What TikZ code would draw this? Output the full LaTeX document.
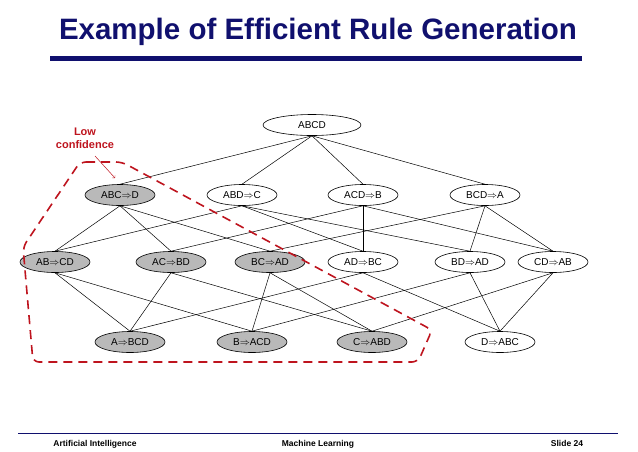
\documentclass[tikz,border=0pt]{standalone}
\usepackage{fontspec}
\setmainfont{Liberation Sans}
\begin{document}
\begin{tikzpicture}[x=1pt,y=-1pt,
 e/.style={ellipse,draw,line width=0.6pt,minimum width=70pt,minimum height=21pt,inner sep=0pt,font=\fontsize{10}{11}\selectfont},
 g/.style={e,fill=gray!55},
 ln/.style={line width=0.5pt}]
\usetikzlibrary{shapes.geometric}
\path[use as bounding box] (0,0) rectangle (638,451);
\definecolor{navy}{RGB}{16,16,110}
\definecolor{dred}{RGB}{190,20,30}
\node[font=\bfseries\fontsize{29.5}{31}\selectfont,text=navy] (title) at (318,32) {Example of Efficient Rule Generation};
\fill[navy] (50,56) rectangle (582,61);
\draw[navy,line width=0.8pt] (18,433) -- (618,433);
\node[font=\bfseries\fontsize{8.5}{9}\selectfont] (f1) at (95,444) {Artificial Intelligence};
\node[font=\bfseries\fontsize{8.5}{9}\selectfont] (f2) at (318,444) {Machine Learning};
\node[font=\bfseries\fontsize{8.5}{9}\selectfont] (f3) at (567,443) {Slide 24};
\def\R{\ensuremath{\Rightarrow}}
\node[e,minimum width=98pt] (abcd) at (312,125) {ABCD};
\node[g] (abc) at (120,195) {ABC\R D};
\node[e] (abd) at (242,195) {ABD\R C};
\node[e] (acd) at (363,195) {ACD\R B};
\node[e] (bcd) at (485,195) {BCD\R A};
\node[g] (ab) at (55,262) {AB\R CD};
\node[g] (ac) at (171,262) {AC\R BD};
\node[g] (bc) at (270,262) {BC\R AD};
\node[e] (ad) at (363,262) {AD\R BC};
\node[e] (bd) at (470,262) {BD\R AD};
\node[e] (cd) at (553,262) {CD\R AB};
\node[g] (a) at (130,342) {A\R BCD};
\node[g] (b) at (252,342) {B\R ACD};
\node[g] (c) at (372,342) {C\R ABD};
\node[e] (d) at (500,342) {D\R ABC};
\foreach \t in {abc,abd,acd,bcd} \draw[ln] (abcd.south) -- (\t.north);
\foreach \s/\t in {abc/ab,abc/ac,abc/bc,abd/ab,abd/ad,abd/bd,acd/ac,acd/ad,acd/cd,bcd/bc,bcd/bd,bcd/cd,
  ab/a,ab/b,ac/a,ac/c,bc/b,bc/c,ad/a,ad/d,bd/b,bd/d,cd/c,cd/d}
  \draw[ln] (\s.south) -- (\t.north);
\draw[dred,line width=1.6pt,dash pattern=on 9pt off 6pt,rounded corners=6pt]
 (80,162) -- (122,162) -- (432,330) -- (418,362) -- (33,362) -- (23,247) -- cycle;
\node[text=dred,font=\bfseries\fontsize{11}{13}\selectfont,align=center] (low) at (85,138) {Low\\confidence};
\draw[dred,->,line width=0.5pt] (95,156) -- (115,178);
\end{tikzpicture}
\end{document}
